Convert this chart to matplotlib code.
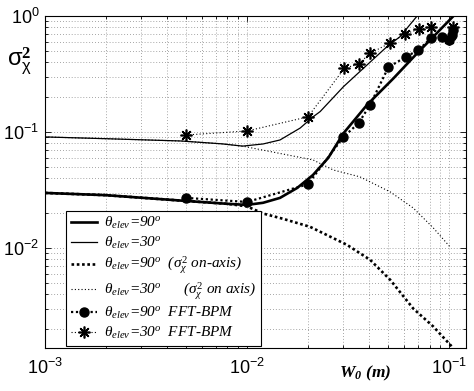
import matplotlib

matplotlib.use("Agg")
import matplotlib.pyplot as plt
from matplotlib.ticker import LogLocator, NullFormatter

plt.rcParams.update({
    "font.family": "Liberation Sans",
    "mathtext.fontset": "custom",
    "mathtext.rm": "Liberation Serif",
    "mathtext.it": "Liberation Serif:italic",
    "mathtext.bf": "Liberation Serif:bold",
    "mathtext.bfit": "Liberation Serif:italic:bold",
    "mathtext.sf": "Liberation Sans",
})

# ── data (W0 in m, sigma_chi^2) ──
w_90 = [0.001, 0.002, 0.005, 0.008, 0.01, 0.012, 0.01455, 0.0177, 0.0212,
        0.0252, 0.030, 0.0392, 0.053, 0.0694, 0.0835, 0.105, 0.12]
s_90 = [0.0298, 0.0285, 0.0254, 0.0240, 0.0235, 0.0245, 0.027, 0.0329, 0.0426,
        0.0597, 0.0975, 0.171, 0.29, 0.477, 0.663, 1.0, 1.3]

w_30 = [0.001, 0.002, 0.0047, 0.0075, 0.0095, 0.012, 0.01455, 0.0183, 0.0212,
        0.023, 0.030, 0.0392, 0.0492, 0.0571, 0.0694, 0.08]
s_30 = [0.0906, 0.0875, 0.0836, 0.079, 0.0755, 0.0788, 0.0853, 0.108, 0.135,
        0.150, 0.246, 0.378, 0.544, 0.663, 1.0, 1.3]

w_90_ax = [0.001, 0.002, 0.005, 0.008, 0.01, 0.012, 0.0151, 0.0205, 0.0313,
           0.0406, 0.0511, 0.0664, 0.0834, 0.1035]
s_90_ax = [0.0298, 0.0285, 0.0254, 0.0240, 0.0228, 0.0198, 0.0178, 0.0152,
           0.0106, 0.0079, 0.0053, 0.0030, 0.0021, 0.0014]

w_30_ax = [0.001, 0.002, 0.0047, 0.0075, 0.0095, 0.0212, 0.0267, 0.0362,
           0.0511, 0.0664, 0.0834, 0.101]
s_30_ax = [0.0906, 0.0875, 0.0836, 0.079, 0.0755, 0.0574, 0.047, 0.041,
           0.0304, 0.0221, 0.0149, 0.0102]

w_90_bpm = [0.005, 0.01, 0.02, 0.03, 0.0356, 0.0406, 0.05, 0.0612, 0.0705,
            0.0811, 0.092, 0.1, 0.103, 0.105]
s_90_bpm = [0.027, 0.0249, 0.0354, 0.0906, 0.119, 0.171, 0.361, 0.446, 0.509,
            0.642, 0.663, 0.62, 0.69, 0.757]

w_30_bpm = [0.005, 0.01, 0.02, 0.0303, 0.0356, 0.0406, 0.0507, 0.0605, 0.071,
            0.0811, 0.1, 0.104]
s_30_bpm = [0.0942, 0.102, 0.135, 0.354, 0.386, 0.477, 0.582, 0.70, 0.773,
            0.80, 0.64, 0.81]

labels = [
    r"$\theta_{elev}$=90$^o$",
    r"$\theta_{elev}$=30$^o$",
    r"$\theta_{elev}$=90$^o$  ($\sigma^2_\chi$ on-axis)",
    r"$\theta_{elev}$=30$^o$      ($\sigma^2_\chi$ on axis)",
    r"$\theta_{elev}$=90$^o$  FFT-BPM",
    r"$\theta_{elev}$=30$^o$  FFT-BPM",
]

fig = plt.figure(figsize=(4.74, 3.91), dpi=100)
ax = fig.add_axes([0.0949, 0.110, 0.888, 0.849])

ax.plot(w_90, s_90, "-", color="black", lw=1.9, label=labels[0])
ax.plot(w_30, s_30, "-", color="black", lw=0.9, label=labels[1])
ax.plot(w_90_ax, s_90_ax, color="black", lw=1.9, ls=(0, (1, 1)), label=labels[2])
ax.plot(w_30_ax, s_30_ax, color="black", lw=0.8, ls=(0, (1, 2)), label=labels[3])
ax.plot(w_90_bpm, s_90_bpm, color="black", lw=1.6, ls=(0, (1, 1.2)),
        marker="o", ms=6.5, mfc="black", mec="black", label=labels[4])
ax.plot(w_30_bpm, s_30_bpm, color="black", lw=0.8, ls=(0, (1, 2)),
        marker=(8, 2, 0), ms=8.5, mew=1.2, mec="black", label=labels[5])

ax.set_xscale("log")
ax.set_yscale("log")
ax.set_xlim(1e-3, 0.121)
ax.set_ylim(1.37e-3, 1.0)

ax.xaxis.set_major_locator(LogLocator(base=10, numticks=10))
ax.yaxis.set_major_locator(LogLocator(base=10, numticks=10))
ax.xaxis.set_minor_locator(LogLocator(base=10, subs=range(2, 10), numticks=20))
ax.yaxis.set_minor_locator(LogLocator(base=10, subs=range(2, 10), numticks=20))
ax.xaxis.set_minor_formatter(NullFormatter())
ax.yaxis.set_minor_formatter(NullFormatter())

ax.grid(True, which="both", ls=(0, (1, 2.5)), color="#888888", lw=0.6)
ax.tick_params(which="both", direction="in", top=True, right=True, width=0.6)
ax.tick_params(which="major", length=4, labelsize=13)
ax.tick_params(which="minor", length=2)
ax.tick_params(axis="x", pad=7)
ax.tick_params(axis="y", pad=4)
for sp in ax.spines.values():
    sp.set_linewidth(0.8)

fig.text(0.015, 0.83, r"$\mathsf{\sigma}^{\mathbf{2}}_{\mathsf{\chi}}$", fontsize=17)
fig.text(0.715, 0.035, r"$\mathbfit{W_0\ (m)}$", fontsize=12.5)

leg = ax.legend(loc="lower left", bbox_to_anchor=(0.05, 0.006), borderaxespad=0,
                frameon=True, fancybox=False, framealpha=1,
                edgecolor="black", handlelength=1.7, handletextpad=0.5,
                labelspacing=0.25, borderpad=0.3,
                prop={"family": "Liberation Serif", "style": "italic", "size": 11})
leg.get_frame().set_linewidth(0.8)

fig.savefig("out.png", dpi=100, facecolor="white")
